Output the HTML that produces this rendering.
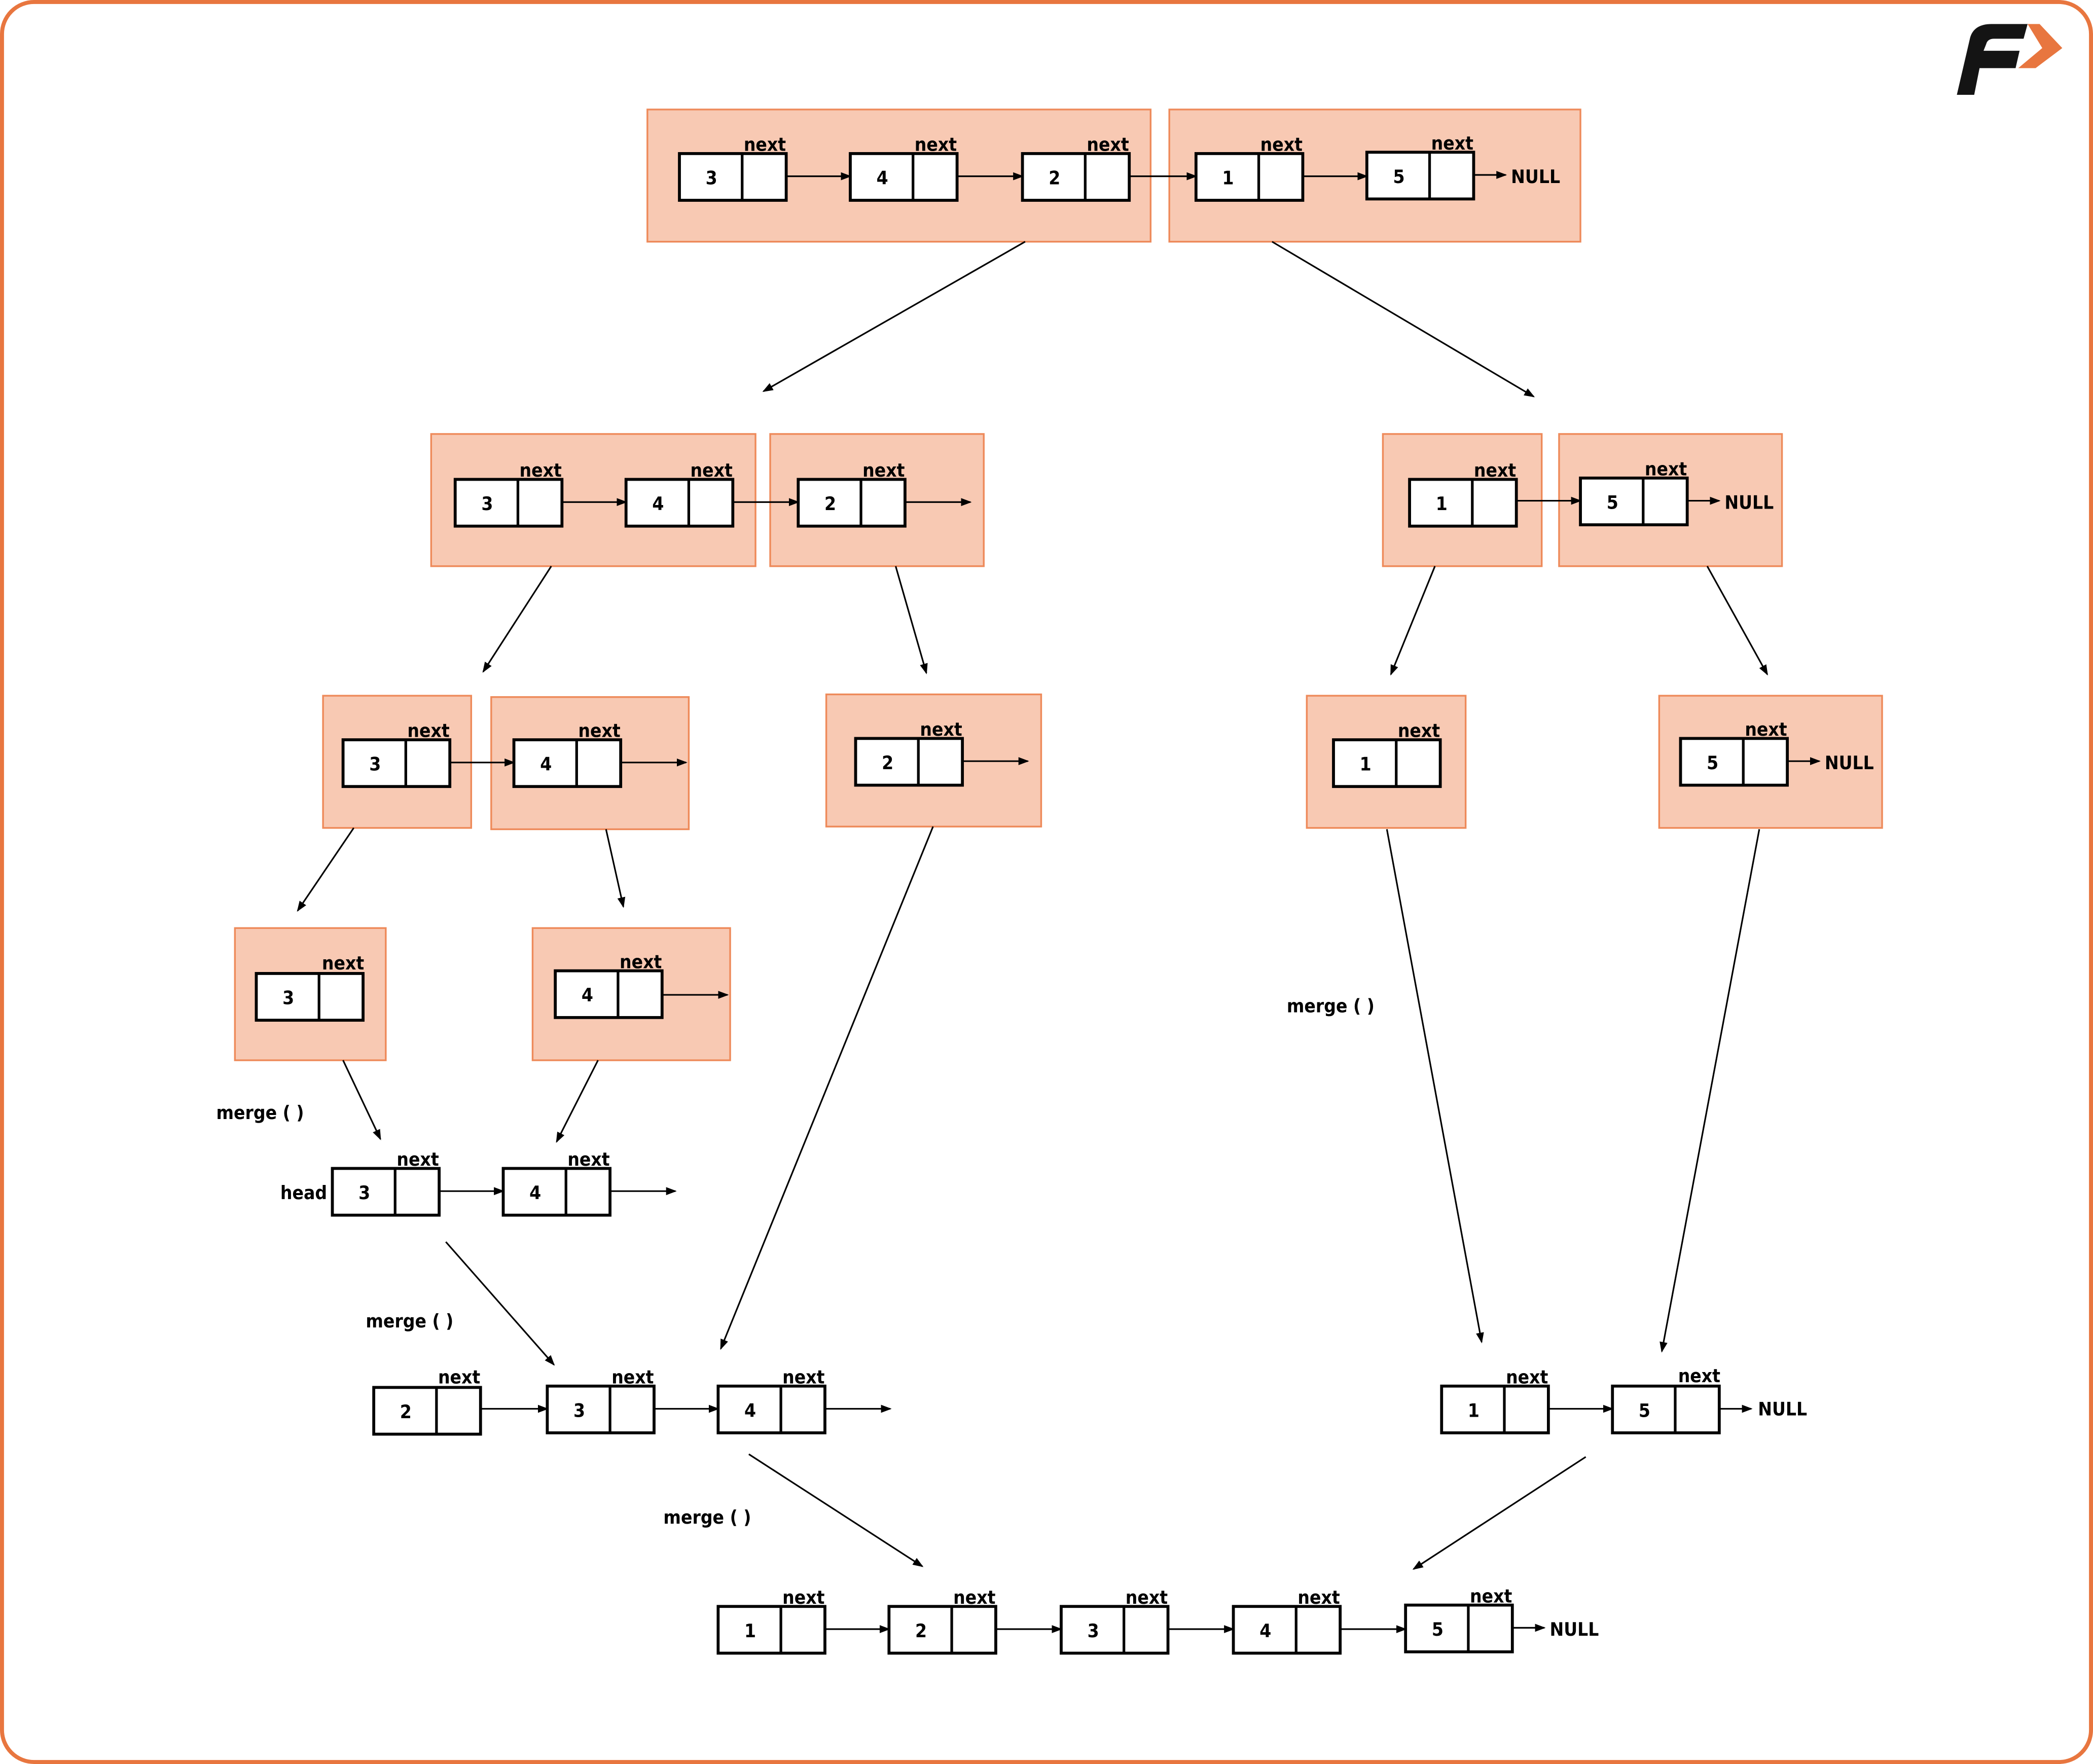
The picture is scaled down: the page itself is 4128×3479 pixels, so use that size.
<!DOCTYPE html>
<html><head><meta charset="utf-8"><style>
html,body{margin:0;padding:0;background:#fff;}
svg{display:block;}
text{font-family:"DejaVu Sans Condensed","DejaVu Sans","Liberation Sans",sans-serif;font-weight:bold;fill:#000;}
.v{font-size:14px;text-anchor:middle;}
.nx{font-size:14px;text-anchor:middle;}
.lb{font-size:14px;}
.bx{fill:#F8C9B3;stroke:#EE8A5A;stroke-width:1.3;}
.ln{stroke:#000;stroke-width:1.2;fill:none;marker-end:url(#ah);}
</style></head><body>
<svg width="4128" height="3479" viewBox="0 0 1568 1321" preserveAspectRatio="none" xmlns="http://www.w3.org/2000/svg">
<defs>
<marker id="ah" markerWidth="8" markerHeight="8" refX="7" refY="4" orient="auto" markerUnits="userSpaceOnUse"><path d="M0,1 L8,4 L0,7 Z" fill="#000"/></marker>
<g id="n"><rect x="0" y="0" width="80" height="35" fill="#fff" stroke="#000" stroke-width="2.2"/><line x1="47" y1="0" x2="47" y2="35" stroke="#000" stroke-width="2"/></g>
</defs>
<rect x="1.5" y="1.5" width="1565" height="1318" rx="24" fill="#fff" stroke="#E8763F" stroke-width="3"/>
<path d="M1466,71 L1476,28 Q1479,18 1492,18 L1519,18 L1516,29 L1494,29 Q1489,29 1488,33 L1486,38 L1513,38 L1510,51 L1483,51 L1479,71 Z" fill="#141414"/>
<path d="M1519,18 L1528,18 L1545,36 L1525,51 L1512,51 L1530,36 Z" fill="#E8763F"/>

<!-- boxes -->
<rect class="bx" x="485" y="82" width="377" height="99"/>
<rect class="bx" x="876" y="82" width="308" height="99"/>
<rect class="bx" x="323" y="325" width="243" height="99"/>
<rect class="bx" x="577" y="325" width="160" height="99"/>
<rect class="bx" x="1036" y="325" width="119" height="99"/>
<rect class="bx" x="1168" y="325" width="167" height="99"/>
<rect class="bx" x="242" y="521" width="111" height="99"/>
<rect class="bx" x="368" y="522" width="148" height="99"/>
<rect class="bx" x="619" y="520" width="161" height="99"/>
<rect class="bx" x="979" y="521" width="119" height="99"/>
<rect class="bx" x="1243" y="521" width="167" height="99"/>
<rect class="bx" x="176" y="695" width="113" height="99"/>
<rect class="bx" x="399" y="695" width="148" height="99"/>

<!-- connectors -->
<line class="ln" x1="768" y1="181" x2="572" y2="293"/>
<line class="ln" x1="953" y1="181" x2="1149" y2="297"/>
<line class="ln" x1="413" y1="424" x2="362" y2="503"/>
<line class="ln" x1="671" y1="424" x2="694" y2="504"/>
<line class="ln" x1="1075" y1="424" x2="1042" y2="505"/>
<line class="ln" x1="1279" y1="424" x2="1324" y2="505"/>
<line class="ln" x1="265" y1="620" x2="223" y2="682"/>
<line class="ln" x1="454" y1="621" x2="467" y2="679"/>
<line class="ln" x1="699" y1="619" x2="540" y2="1010"/>
<line class="ln" x1="1039" y1="621" x2="1110" y2="1005"/>
<line class="ln" x1="1318" y1="621" x2="1245" y2="1012"/>
<line class="ln" x1="257" y1="794" x2="285" y2="853"/>
<line class="ln" x1="448" y1="794" x2="417" y2="855"/>
<line class="ln" x1="334" y1="930" x2="415" y2="1022"/>
<line class="ln" x1="561" y1="1089" x2="691" y2="1173"/>
<line class="ln" x1="1188" y1="1091" x2="1059" y2="1175"/>

<!-- horizontal arrows -->
<line class="ln" x1="589" y1="132" x2="637" y2="132"/>
<line class="ln" x1="717" y1="132" x2="766" y2="132"/>
<line class="ln" x1="846" y1="132" x2="896" y2="132"/>
<line class="ln" x1="976" y1="132" x2="1024" y2="132"/>
<line class="ln" x1="1104" y1="131" x2="1128" y2="131"/>
<line class="ln" x1="421" y1="376" x2="469" y2="376"/>
<line class="ln" x1="549" y1="376" x2="598" y2="376"/>
<line class="ln" x1="678" y1="376" x2="727" y2="376"/>
<line class="ln" x1="1136" y1="375" x2="1184" y2="375"/>
<line class="ln" x1="1264" y1="375" x2="1288" y2="375"/>
<line class="ln" x1="337" y1="571" x2="385" y2="571"/>
<line class="ln" x1="465" y1="571" x2="514" y2="571"/>
<line class="ln" x1="721" y1="570" x2="770" y2="570"/>
<line class="ln" x1="1339" y1="570" x2="1363" y2="570"/>
<line class="ln" x1="496" y1="745" x2="545" y2="745"/>
<line class="ln" x1="329" y1="892" x2="377" y2="892"/>
<line class="ln" x1="457" y1="892" x2="506" y2="892"/>
<line class="ln" x1="360" y1="1055" x2="410" y2="1055"/>
<line class="ln" x1="490" y1="1055" x2="538" y2="1055"/>
<line class="ln" x1="618" y1="1055" x2="667" y2="1055"/>
<line class="ln" x1="1160" y1="1055" x2="1208" y2="1055"/>
<line class="ln" x1="1288" y1="1055" x2="1312" y2="1055"/>
<line class="ln" x1="618" y1="1220" x2="666" y2="1220"/>
<line class="ln" x1="746" y1="1220" x2="795" y2="1220"/>
<line class="ln" x1="875" y1="1220" x2="924" y2="1220"/>
<line class="ln" x1="1004" y1="1220" x2="1053" y2="1220"/>
<line class="ln" x1="1133" y1="1219" x2="1157" y2="1219"/>

<!-- nodes -->
<use href="#n" x="509" y="115"/><text class="v" x="533" y="138">3</text><text class="nx" x="573" y="113">next</text>
<use href="#n" x="637" y="115"/><text class="v" x="661" y="138">4</text><text class="nx" x="701" y="113">next</text>
<use href="#n" x="766" y="115"/><text class="v" x="790" y="138">2</text><text class="nx" x="830" y="113">next</text>
<use href="#n" x="896" y="115"/><text class="v" x="920" y="138">1</text><text class="nx" x="960" y="113">next</text>
<use href="#n" x="1024" y="114"/><text class="v" x="1048" y="137">5</text><text class="nx" x="1088" y="112">next</text>
<text class="lb" x="1132" y="137">NULL</text>

<use href="#n" x="341" y="359"/><text class="v" x="365" y="382">3</text><text class="nx" x="405" y="357">next</text>
<use href="#n" x="469" y="359"/><text class="v" x="493" y="382">4</text><text class="nx" x="533" y="357">next</text>
<use href="#n" x="598" y="359"/><text class="v" x="622" y="382">2</text><text class="nx" x="662" y="357">next</text>
<use href="#n" x="1056" y="359"/><text class="v" x="1080" y="382">1</text><text class="nx" x="1120" y="357">next</text>
<use href="#n" x="1184" y="358"/><text class="v" x="1208" y="381">5</text><text class="nx" x="1248" y="356">next</text>
<text class="lb" x="1292" y="381">NULL</text>

<use href="#n" x="257" y="554"/><text class="v" x="281" y="577">3</text><text class="nx" x="321" y="552">next</text>
<use href="#n" x="385" y="554"/><text class="v" x="409" y="577">4</text><text class="nx" x="449" y="552">next</text>
<use href="#n" x="641" y="553"/><text class="v" x="665" y="576">2</text><text class="nx" x="705" y="551">next</text>
<use href="#n" x="999" y="554"/><text class="v" x="1023" y="577">1</text><text class="nx" x="1063" y="552">next</text>
<use href="#n" x="1259" y="553"/><text class="v" x="1283" y="576">5</text><text class="nx" x="1323" y="551">next</text>
<text class="lb" x="1367" y="576">NULL</text>

<use href="#n" x="192" y="729"/><text class="v" x="216" y="752">3</text><text class="nx" x="257" y="726">next</text>
<use href="#n" x="416" y="727"/><text class="v" x="440" y="750">4</text><text class="nx" x="480" y="725">next</text>

<text class="lb" x="162" y="838">merge ( )</text>
<text class="lb" x="964" y="758">merge ( )</text>
<text class="lb" x="210" y="898">head</text>
<use href="#n" x="249" y="875"/><text class="v" x="273" y="898">3</text><text class="nx" x="313" y="873">next</text>
<use href="#n" x="377" y="875"/><text class="v" x="401" y="898">4</text><text class="nx" x="441" y="873">next</text>

<text class="lb" x="274" y="994">merge ( )</text>
<use href="#n" x="280" y="1039"/><text class="v" x="304" y="1062">2</text><text class="nx" x="344" y="1036">next</text>
<use href="#n" x="410" y="1038"/><text class="v" x="434" y="1061">3</text><text class="nx" x="474" y="1036">next</text>
<use href="#n" x="538" y="1038"/><text class="v" x="562" y="1061">4</text><text class="nx" x="602" y="1036">next</text>
<use href="#n" x="1080" y="1038"/><text class="v" x="1104" y="1061">1</text><text class="nx" x="1144" y="1036">next</text>
<use href="#n" x="1208" y="1038"/><text class="v" x="1232" y="1061">5</text><text class="nx" x="1273" y="1035">next</text>
<text class="lb" x="1317" y="1060">NULL</text>

<text class="lb" x="497" y="1141">merge ( )</text>
<use href="#n" x="538" y="1203"/><text class="v" x="562" y="1226">1</text><text class="nx" x="602" y="1201">next</text>
<use href="#n" x="666" y="1203"/><text class="v" x="690" y="1226">2</text><text class="nx" x="730" y="1201">next</text>
<use href="#n" x="795" y="1203"/><text class="v" x="819" y="1226">3</text><text class="nx" x="859" y="1201">next</text>
<use href="#n" x="924" y="1203"/><text class="v" x="948" y="1226">4</text><text class="nx" x="988" y="1201">next</text>
<use href="#n" x="1053" y="1202"/><text class="v" x="1077" y="1225">5</text><text class="nx" x="1117" y="1200">next</text>
<text class="lb" x="1161" y="1225">NULL</text>
</svg>
</body></html>
